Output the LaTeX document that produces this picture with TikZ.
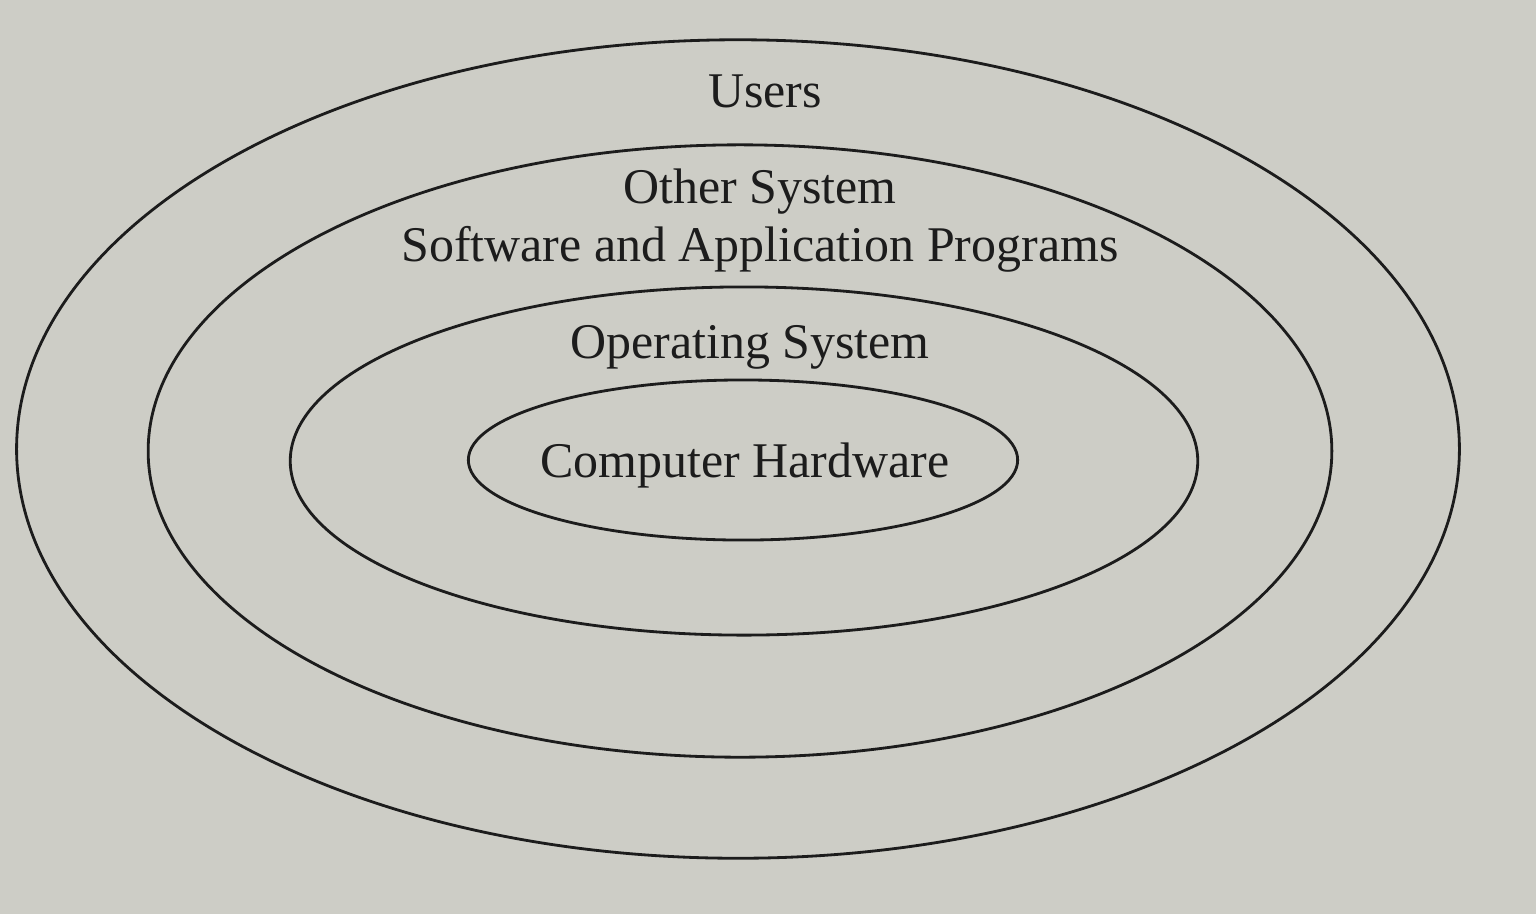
\documentclass[tikz,border=0pt]{standalone}
\usepackage{fontspec}
\setmainfont{Liberation Serif}
\usetikzlibrary{shapes.geometric}
\definecolor{paper}{RGB}{205,205,198}
\definecolor{ink}{RGB}{28,28,28}
\tikzset{
  ring/.style={ellipse, draw=ink, line width=0.8pt, inner sep=0pt}, % one layer of the system
  ringtext/.style={text=ink, font=\fontsize{14.2pt}{16.5pt}\selectfont, inner sep=0pt}, % the name of a layer
}

\begin{document}
\begin{tikzpicture}[x=0.01cm, y=-0.01cm]
    % paper, also fixes the size of the page
    \fill[paper] (0,0) rectangle (1536,914);

    % the layers, outside in
    \node[ring, minimum width=14.42cm, minimum height=8.18cm] (users) at (738,449) {};
    \node[ring, minimum width=11.83cm, minimum height=6.12cm] (software) at (740,451) {};
    \node[ring, minimum width=9.07cm, minimum height=3.48cm] (os) at (744,461) {};
    \node[ring, minimum width=5.49cm, minimum height=1.60cm] (hardware) at (743,460) {};

    % names
    \node[ringtext, anchor=base] (userstext) at (765,107) {Users};
    \node[ringtext, align=center] (softwaretext) at (760,221) {Other System\\Software and Application Programs};
    \node[ringtext, anchor=base] (ostext) at (750,358) {Operating System};
    \node[ringtext, anchor=base] (hardwaretext) at (745,477) {Computer Hardware};
\end{tikzpicture}
\end{document}
